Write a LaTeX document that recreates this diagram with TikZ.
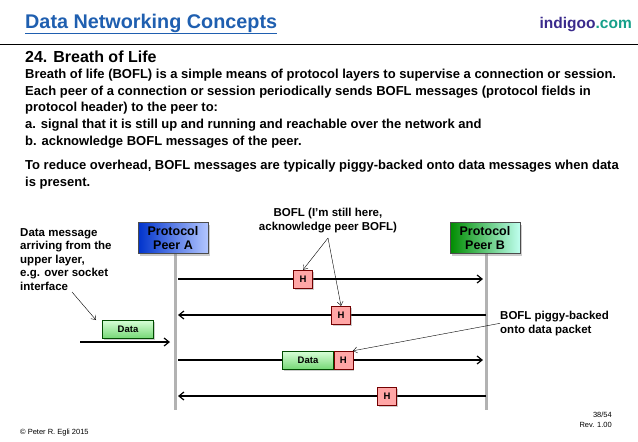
\documentclass[tikz,border=0pt]{standalone}
\usepackage{fontspec}
\setmainfont{Liberation Sans}
\usetikzlibrary{arrows.meta,shadows}
\definecolor{tblue}{HTML}{1F5FB0}
\definecolor{indi}{HTML}{3A2A8C}
\definecolor{teal2}{HTML}{16A08A}
\begin{document}
\begin{tikzpicture}[x=1pt,y=-1pt,font=\bfseries,
 peer/.style={draw=black!70,minimum width=70pt,minimum height=31pt,align=center,inner sep=0pt,font=\fontsize{12.5}{13.5}\selectfont\bfseries,drop shadow={shadow xshift=2pt,shadow yshift=-2pt,opacity=0.4}},
 hbox/.style={draw=red!45!black,fill=red!35,minimum width=19pt,minimum height=18pt,inner sep=0pt,font=\fontsize{9.5}{10}\selectfont\bfseries,drop shadow={shadow xshift=1.5pt,shadow yshift=-1.5pt,opacity=0.4}},
 dbox/.style={draw=green!30!black,top color=green!15!white,bottom color=green!45!white!85!black,minimum width=51pt,minimum height=18pt,inner sep=0pt,font=\fontsize{9.5}{10}\selectfont\bfseries,drop shadow={shadow xshift=1.5pt,shadow yshift=-1.5pt,opacity=0.4}},
 msg/.style={line width=1.2pt,-{Straight Barb[length=5pt,width=8pt]}},
 note/.style={thin,-{Straight Barb[length=4pt,width=6pt]}},
 life/.style={line width=3pt,gray!60},
 txt/.style={anchor=north west,align=left,inner sep=0pt,font=\fontsize{11.5}{13.5}\selectfont\bfseries}]
\useasboundingbox (0,0) rectangle (638,442);
\fill[white] (0,0) rectangle (638,442);
\node[anchor=base west,inner sep=0pt,text=tblue,font=\fontsize{19.8}{22}\selectfont\bfseries] (title) at (25,28) {\underline{Data Networking Concepts}};
\node[anchor=base east,inner sep=0pt,font=\fontsize{15.5}{16}\selectfont\bfseries] (brand) at (632,28) {\textcolor{indi}{indigoo}\textcolor{teal2}{.com}};
\draw[line width=0.8pt] (0,44) -- (638,44);
\node[anchor=base west,inner sep=0pt,font=\fontsize{16}{18}\selectfont\bfseries] (h) at (25,62) {24. Breath of Life};
\node[anchor=north west,inner sep=0pt,align=left,font=\fontsize{13}{16.6}\selectfont\bfseries] (par) at (25,69) {Breath of life (BOFL) is a simple means of protocol layers to supervise a connection or session.\\Each peer of a connection or session periodically sends BOFL messages (protocol fields in\\protocol header) to the peer to:\\a. signal that it is still up and running and reachable over the network and\\b. acknowledge BOFL messages of the peer.\\[8pt]To reduce overhead, BOFL messages are typically piggy-backed onto data messages when data\\is present.};
\draw[life] (175,253) -- (175,410);
\draw[life] (486,253) -- (486,410);
\node[peer,left color=blue!75!cyan!80!black,right color=cyan!25!blue!30!white] (A) at (173,238) {Protocol\\Peer A};
\node[peer,left color=green!55!black,right color=green!25!cyan!25!white] (B) at (485,238) {Protocol\\Peer B};
\coordinate (a1) at (178,279); \coordinate (b1) at (483,279);
\coordinate (a2) at (178,315); \coordinate (b2) at (486,315);
\coordinate (a3) at (178,360); \coordinate (b3) at (483,360);
\coordinate (a4) at (178,396); \coordinate (b4) at (486,396);
\coordinate (in0) at (80,342); \coordinate (in1) at (170,342);
\draw[msg] (a1) -- (b1);
\draw[msg] (b2) -- (a2);
\draw[msg] (a3) -- (b3);
\draw[msg] (b4) -- (a4);
\draw[msg] (in0) -- (in1);
\node[hbox] (h1) at (303,279) {H};
\node[hbox] (h2) at (341,315) {H};
\node[dbox] (d0) at (128,329) {Data};
\node[dbox,minimum width=51pt] (d3) at (308,360) {Data};
\node[hbox,anchor=west] (h3) at (333.5,360) {H};
\node[hbox] (h4) at (387,396) {H};
\node[anchor=north,align=center,inner sep=0pt,font=\fontsize{11.5}{13.5}\selectfont\bfseries] (bofl) at (328,208) {BOFL (I'm still here,\\acknowledge peer BOFL)};
\coordinate (bp) at (328,238);
\draw[note] (bp) -- (h1.north);
\draw[note] (bp) -- (h2.north);
\node[txt] (pig) at (500,311) {BOFL piggy-backed\\onto data packet};
\draw[note] (pig.west) -- (h3.north east);
\node[txt] (dm) at (20,228) {Data message\\arriving from the\\upper layer,\\e.g. over socket\\interface};
\coordinate (dmt) at (72,292);
\draw[note] (dmt) -- (96,320);
\node[anchor=base west,inner sep=0pt,font=\fontsize{7.5}{8}\selectfont] (cp) at (20,434) {\textcopyright{} Peter R. Egli 2015};
\node[anchor=base east,align=right,inner sep=0pt,font=\fontsize{7.5}{10}\selectfont] (pg) at (612,427) {38/54\\Rev. 1.00};
\end{tikzpicture}
\end{document}
